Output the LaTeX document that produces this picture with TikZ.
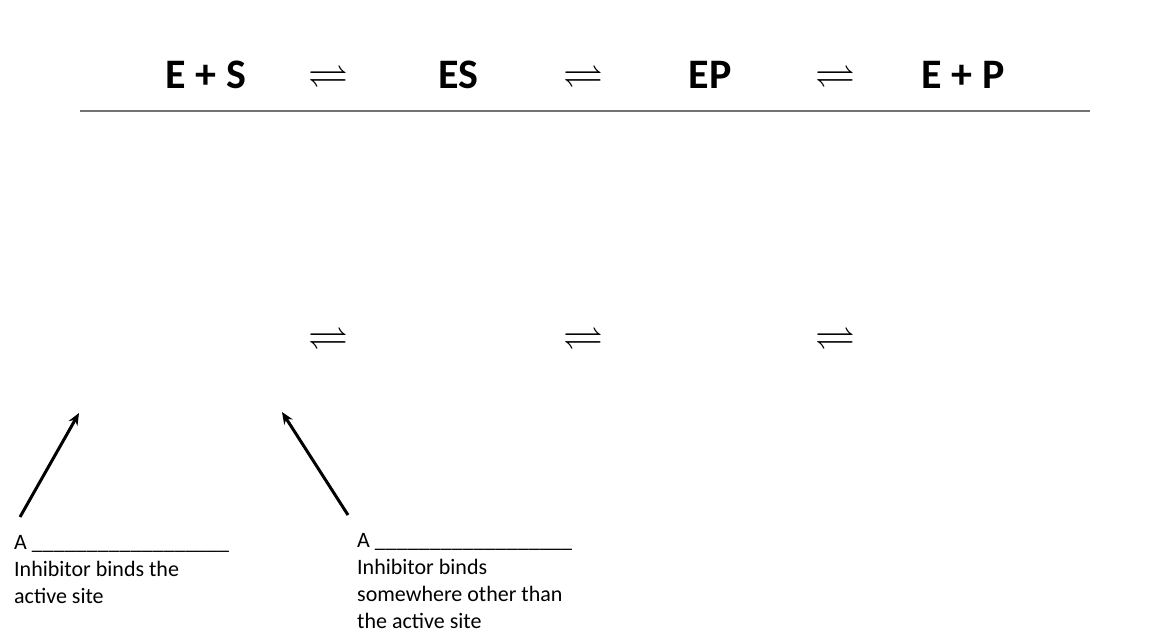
\documentclass[tikz,border=0pt]{standalone}
\usepackage{amssymb}
\usepackage{fontspec}
\setmainfont{Carlito}
\usetikzlibrary{arrows.meta}
\newcommand{\eqarrow}{\scalebox{1.6}[1.6]{$\rightleftharpoons$}}
\begin{document}
\begin{tikzpicture}[x=1pt,y=-1pt,
  species/.style={font=\fontsize{42}{44}\selectfont\bfseries, inner sep=0pt, anchor=center},
  eqsym/.style={font=\fontsize{24.88}{28}\selectfont, inner sep=0pt, anchor=center},
  note/.style={font=\fontsize{22}{27}\selectfont, inner sep=0pt, anchor=north west, align=left},
  pointer/.style={line width=3pt, -{Stealth[length=12pt,width=10pt]}}
]
\useasboundingbox (0,0) rectangle (1170,632);
% top equation
\node[species] (es1) at (206,75) {E + S};
\node[eqsym] (q1) at (328,76) {\eqarrow};
\node[species] (es2) at (458,75) {ES};
\node[eqsym] (q2) at (583,76) {\eqarrow};
\node[species] (es3) at (710,75) {EP};
\node[eqsym] (q3) at (835,76) {\eqarrow};
\node[species] (es4) at (963,75) {E + P};
\coordinate (rl) at (80,111);
\coordinate (rr) at (1090,111);
\draw[line width=1.6pt, draw=black!55] (rl) -- (rr);
% lower equation
\node[eqsym] (l1) at (328,338) {\eqarrow};
\node[eqsym] (l2) at (583,338) {\eqarrow};
\node[eqsym] (l3) at (835,338) {\eqarrow};
% notes
\node[note] (n1) at (14,535) {A \_\_\_\_\_\_\_\_\_\_\_\_\_\_\_\_\_\_\\Inhibitor binds the\\active site};
\node[note] (n2) at (357,533) {A \_\_\_\_\_\_\_\_\_\_\_\_\_\_\_\_\_\_\\Inhibitor binds\\somewhere other than\\the active site};
\coordinate (a1s) at (20,517);
\coordinate (a1e) at (79,413);
\coordinate (a2s) at (348,515);
\coordinate (a2e) at (282,412);
\draw[pointer] (a1s) -- (a1e);
\draw[pointer] (a2s) -- (a2e);
\end{tikzpicture}
\end{document}
